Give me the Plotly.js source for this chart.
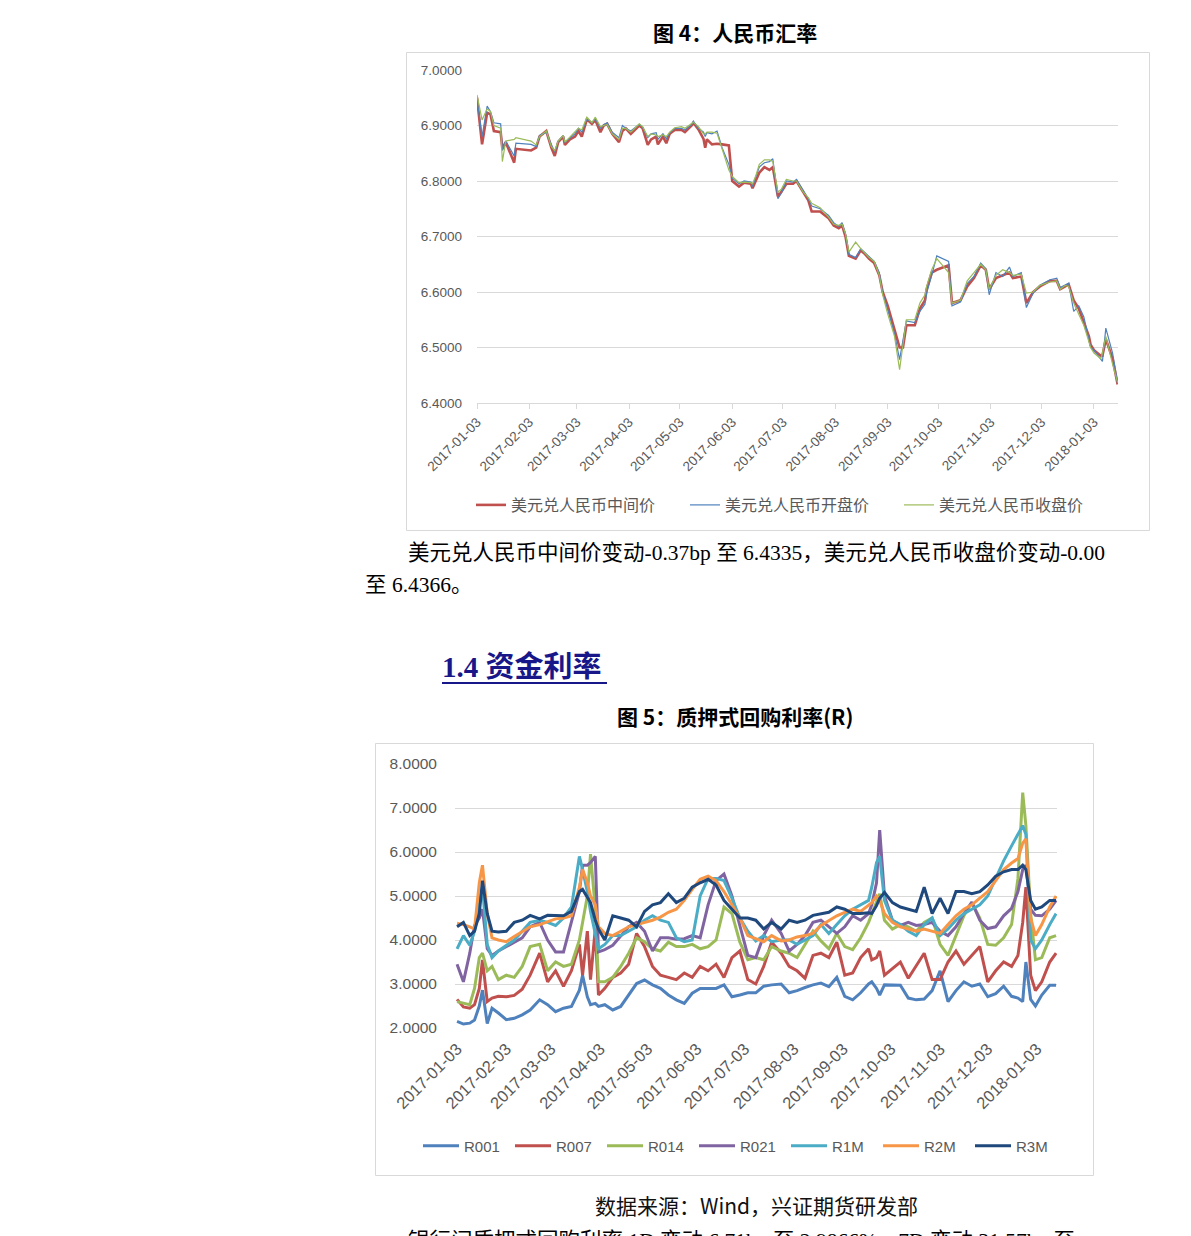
<!DOCTYPE html>
<html>
<head>
<meta charset="utf-8">
<script src="https://cdn.plot.ly/plotly-3.0.1.min.js"></script>
<style>
html,body{margin:0;padding:0;background:#fff;}
#page{width:1191px;height:1236px;}
</style>
</head>
<body>
<div id="page"></div>
<script>
// ---------- Figure 4: USD/CNY ----------
const fxSeriesNames = ['美元兑人民币中间价', '美元兑人民币开盘价', '美元兑人民币收盘价'];
const fxDates = [
'2017-01-03','2017-01-06','2017-01-09','2017-01-11','2017-01-13','2017-01-17','2017-01-18','2017-01-20','2017-01-25','2017-01-26',
'2017-02-04','2017-02-07','2017-02-09','2017-02-13','2017-02-16','2017-02-18','2017-02-20','2017-02-23','2017-02-24','2017-02-27',
'2017-03-02','2017-03-04','2017-03-06','2017-03-09','2017-03-12','2017-03-14','2017-03-17','2017-03-19','2017-03-21','2017-03-24',
'2017-03-28','2017-03-30','2017-04-01','2017-04-04','2017-04-09','2017-04-11','2017-04-14','2017-04-16','2017-04-19','2017-04-20',
'2017-04-23','2017-04-25','2017-04-27','2017-04-30','2017-05-04','2017-05-06','2017-05-10','2017-05-11','2017-05-14','2017-05-17',
'2017-05-18','2017-05-19','2017-05-22','2017-05-25','2017-05-28','2017-06-01','2017-06-03','2017-06-07','2017-06-10','2017-06-14',
'2017-06-15','2017-06-17','2017-06-19','2017-06-22','2017-06-25','2017-06-27','2017-06-30','2017-07-02','2017-07-05','2017-07-09',
'2017-07-11','2017-07-15','2017-07-18','2017-07-20','2017-07-25','2017-07-27','2017-07-30','2017-08-02','2017-08-05','2017-08-07',
'2017-08-09','2017-08-11','2017-08-15','2017-08-18','2017-08-20','2017-08-23','2017-08-26','2017-08-29','2017-08-31','2017-09-03',
'2017-09-07','2017-09-10','2017-09-12','2017-09-14','2017-09-19','2017-09-22','2017-09-25','2017-09-26','2017-09-29','2017-10-02',
'2017-10-09','2017-10-11','2017-10-16','2017-10-20','2017-10-24','2017-10-28','2017-10-31','2017-11-02','2017-11-06','2017-11-10',
'2017-11-14','2017-11-16','2017-11-21','2017-11-24','2017-11-28','2017-12-02','2017-12-08','2017-12-12','2017-12-14','2017-12-17',
'2017-12-19','2017-12-22','2017-12-25','2017-12-28','2017-12-31','2018-01-01','2018-01-03','2018-01-07','2018-01-08','2018-01-10',
'2018-01-14','2018-01-17'];
const fxMid = [
6.950,6.866,6.923,6.920,6.890,6.888,6.858,6.870,6.833,6.858,
6.855,6.860,6.880,6.890,6.860,6.845,6.870,6.880,6.865,6.875,
6.880,6.890,6.880,6.911,6.903,6.910,6.888,6.900,6.903,6.885,
6.870,6.890,6.895,6.885,6.900,6.895,6.865,6.875,6.880,6.866,
6.880,6.868,6.885,6.892,6.892,6.888,6.900,6.905,6.893,6.876,
6.860,6.875,6.866,6.867,6.866,6.864,6.800,6.790,6.797,6.795,
6.787,6.800,6.815,6.825,6.820,6.825,6.772,6.780,6.795,6.795,
6.800,6.780,6.765,6.745,6.745,6.740,6.733,6.720,6.715,6.720,
6.700,6.665,6.660,6.675,6.670,6.660,6.652,6.630,6.600,6.575,
6.530,6.500,6.500,6.540,6.540,6.570,6.585,6.605,6.635,6.640,
6.648,6.580,6.585,6.610,6.625,6.648,6.640,6.605,6.625,6.630,
6.635,6.625,6.628,6.580,6.600,6.610,6.620,6.620,6.605,6.610,
6.614,6.585,6.570,6.545,6.520,6.505,6.495,6.485,6.485,6.515,
6.480,6.4335];
const fxOpen = [
6.948,6.880,6.935,6.925,6.905,6.903,6.855,6.872,6.845,6.868,
6.866,6.862,6.882,6.888,6.866,6.852,6.872,6.882,6.870,6.878,
6.885,6.895,6.888,6.912,6.905,6.912,6.895,6.902,6.905,6.888,
6.878,6.900,6.895,6.890,6.902,6.897,6.878,6.885,6.887,6.875,
6.885,6.876,6.887,6.895,6.895,6.892,6.902,6.908,6.895,6.888,
6.880,6.887,6.885,6.890,6.860,6.830,6.805,6.795,6.800,6.798,
6.790,6.808,6.825,6.833,6.835,6.840,6.768,6.778,6.800,6.798,
6.803,6.783,6.768,6.755,6.750,6.745,6.738,6.725,6.718,6.725,
6.705,6.668,6.662,6.678,6.672,6.663,6.655,6.635,6.598,6.568,
6.525,6.478,6.510,6.548,6.545,6.565,6.578,6.598,6.630,6.665,
6.655,6.575,6.582,6.615,6.628,6.652,6.642,6.595,6.635,6.628,
6.645,6.628,6.635,6.572,6.598,6.612,6.622,6.625,6.608,6.612,
6.616,6.565,6.575,6.555,6.515,6.500,6.495,6.478,6.475,6.535,
6.490,6.435];
const fxClose = [
6.955,6.910,6.930,6.925,6.900,6.895,6.835,6.872,6.875,6.878,
6.872,6.865,6.880,6.890,6.862,6.855,6.872,6.882,6.870,6.880,
6.890,6.895,6.892,6.915,6.905,6.915,6.898,6.900,6.902,6.885,
6.875,6.895,6.895,6.888,6.903,6.898,6.880,6.885,6.883,6.880,
6.883,6.880,6.888,6.896,6.898,6.895,6.905,6.906,6.898,6.885,
6.885,6.888,6.888,6.886,6.858,6.820,6.808,6.797,6.798,6.797,
6.795,6.810,6.830,6.838,6.838,6.835,6.780,6.785,6.803,6.800,
6.800,6.780,6.770,6.760,6.752,6.745,6.735,6.722,6.720,6.722,
6.705,6.672,6.690,6.678,6.672,6.662,6.655,6.630,6.595,6.560,
6.520,6.460,6.505,6.550,6.550,6.580,6.595,6.610,6.640,6.660,
6.635,6.580,6.585,6.620,6.635,6.650,6.640,6.605,6.630,6.640,
6.635,6.630,6.632,6.598,6.600,6.612,6.618,6.620,6.605,6.612,
6.610,6.580,6.560,6.540,6.510,6.500,6.490,6.480,6.490,6.520,
6.470,6.4366];

// shared month ticks
const monthTicks = ['2017-01-03','2017-02-03','2017-03-03','2017-04-03','2017-05-03','2017-06-03','2017-07-03',
                    '2017-08-03','2017-09-03','2017-10-03','2017-11-03','2017-12-03','2018-01-03'];
const fxYTicks = [6.4, 6.5, 6.6, 6.7, 6.8, 6.9, 7.0];

// ---------- Figure 5: repo rates ----------
const repoNames = ['R001','R007','R014','R021','R1M','R2M','R3M'];
const repoDates = [
'2017-01-03','2017-01-07','2017-01-11','2017-01-14','2017-01-17','2017-01-19','2017-01-22','2017-01-25','2017-01-29','2017-02-03',
'2017-02-08','2017-02-13','2017-02-18','2017-02-24','2017-03-01','2017-03-06','2017-03-11','2017-03-16','2017-03-21','2017-03-23',
'2017-03-26','2017-03-28','2017-03-31','2017-04-02','2017-04-06','2017-04-11','2017-04-16','2017-04-21','2017-04-26','2017-05-01',
'2017-05-06','2017-05-11','2017-05-16','2017-05-21','2017-05-26','2017-05-31','2017-06-05','2017-06-10','2017-06-15','2017-06-20',
'2017-06-25','2017-06-30','2017-07-05','2017-07-10','2017-07-15','2017-07-20','2017-07-26','2017-07-31','2017-08-05','2017-08-10',
'2017-08-15','2017-08-20','2017-08-25','2017-08-30','2017-09-04','2017-09-09','2017-09-14','2017-09-19','2017-09-21','2017-09-24',
'2017-09-26','2017-09-29','2017-10-04','2017-10-09','2017-10-14','2017-10-19','2017-10-24','2017-10-29','2017-11-03','2017-11-08',
'2017-11-13','2017-11-18','2017-11-23','2017-11-28','2017-12-03','2017-12-08','2017-12-13','2017-12-18','2017-12-22','2017-12-25',
'2017-12-27','2017-12-30','2018-01-02','2018-01-06','2018-01-11','2018-01-15'];
const R001 = [
2.15,2.09,2.11,2.18,2.50,2.86,2.10,2.45,2.34,2.19,
2.22,2.30,2.41,2.64,2.53,2.37,2.45,2.49,2.86,3.20,
2.71,2.53,2.56,2.49,2.53,2.41,2.49,2.75,3.01,3.09,
2.98,2.90,2.75,2.64,2.56,2.79,2.90,2.90,2.90,2.98,
2.71,2.75,2.80,2.80,2.95,2.98,3.00,2.80,2.85,2.92,
2.98,3.02,2.94,3.15,2.72,2.64,2.80,3.00,3.05,2.90,
2.75,2.98,2.98,2.97,2.68,2.64,2.66,2.85,3.30,2.60,
2.85,3.05,2.95,3.00,2.71,2.78,2.95,2.72,2.68,2.60,
3.50,2.65,2.50,2.75,2.97,2.97];
const R007 = [
2.65,2.48,2.45,2.53,2.90,3.55,2.60,2.68,2.72,2.71,
2.74,2.88,3.20,3.70,3.05,3.30,2.95,3.30,3.90,3.20,
4.20,3.10,4.25,2.75,2.90,3.15,3.25,3.45,4.15,3.85,
3.40,3.20,3.15,3.10,3.25,3.15,3.40,3.30,3.45,3.15,
3.60,3.75,3.10,3.00,3.40,3.95,3.70,3.40,3.30,3.13,
3.65,3.70,3.60,3.95,3.20,3.25,3.60,3.80,3.55,3.60,
3.75,3.20,3.35,3.50,3.13,3.40,3.70,3.10,3.10,3.50,
3.75,3.45,3.65,3.85,3.05,3.30,3.50,3.40,3.65,4.40,
5.20,3.20,2.85,3.05,3.50,3.70];
const R014 = [
2.60,2.56,2.53,2.90,3.60,3.70,3.30,3.40,3.10,3.20,
3.15,3.40,3.85,3.90,3.30,3.50,3.40,3.45,4.00,4.40,
5.00,5.95,4.70,3.05,3.05,3.15,3.40,3.70,4.05,3.96,
3.80,3.75,3.95,3.85,3.85,3.90,3.80,3.85,4.00,4.75,
4.60,3.95,3.55,3.60,3.55,3.85,3.75,3.70,3.60,3.90,
4.20,3.98,3.80,4.15,3.85,3.78,4.05,4.40,4.60,4.90,
5.05,4.45,4.25,4.35,4.30,4.20,4.40,4.50,3.90,3.65,
4.10,4.55,4.85,4.50,3.90,3.88,4.05,4.35,5.40,7.35,
6.60,4.60,3.55,3.60,4.05,4.10];
const R021 = [
3.45,3.05,3.70,4.33,4.50,4.70,3.80,3.65,3.75,3.85,
3.95,4.05,4.30,4.40,4.00,3.73,3.73,4.40,5.10,5.70,
5.70,5.76,5.90,3.73,3.78,3.88,4.10,4.30,4.40,4.20,
3.75,4.05,4.05,4.02,4.03,4.10,4.05,4.80,5.35,5.50,
5.00,4.30,3.65,3.60,4.10,4.45,4.15,3.75,3.90,4.10,
4.40,4.45,4.30,4.15,4.30,4.55,4.45,4.60,4.80,5.30,
6.50,5.00,4.45,4.33,4.40,4.33,4.35,4.40,4.20,4.10,
4.30,4.60,4.86,4.45,4.26,4.30,4.55,4.72,5.10,5.60,
5.70,4.70,4.56,4.55,4.70,4.90];
const R1M = [
3.80,4.10,3.88,4.20,4.80,5.20,3.90,3.60,3.75,3.88,
4.00,4.20,4.40,4.45,4.40,4.33,4.50,4.75,5.90,5.60,
5.10,4.65,4.10,3.80,3.90,4.10,4.10,4.20,4.30,4.45,
4.55,4.45,4.40,4.05,3.96,4.00,5.00,5.40,5.40,5.35,
4.95,4.50,4.20,3.98,4.10,3.96,4.00,4.00,3.90,4.00,
4.10,4.35,4.15,4.35,4.55,4.70,4.80,4.90,5.20,5.76,
5.90,4.90,4.45,4.35,4.20,4.10,4.35,4.50,4.10,4.25,
4.45,4.60,4.70,4.80,5.00,5.40,5.80,6.14,6.40,6.60,
6.40,4.00,3.80,4.00,4.35,4.60];
const R2M = [
4.38,4.35,4.30,4.25,5.30,5.70,4.60,4.05,4.00,3.96,
4.08,4.20,4.30,4.35,4.42,4.48,4.50,4.55,5.20,5.60,
5.30,5.00,4.80,4.30,4.15,4.10,4.20,4.30,4.35,4.40,
4.45,4.52,4.63,4.70,4.90,5.15,5.38,5.45,5.35,5.10,
4.80,4.50,4.10,4.03,3.96,4.10,3.98,4.00,4.07,4.10,
4.15,4.33,4.45,4.55,4.63,4.70,4.65,4.78,4.85,5.00,
4.90,4.60,4.40,4.30,4.25,4.20,4.25,4.20,4.15,4.35,
4.55,4.70,4.80,4.95,5.10,5.35,5.60,5.75,5.85,6.20,
6.30,4.50,4.10,4.35,4.75,5.00];
const R3M = [
4.30,4.40,4.10,4.20,4.60,5.35,4.60,4.20,4.18,4.20,
4.40,4.45,4.56,4.48,4.56,4.55,4.55,4.65,5.10,5.15,
4.95,4.85,4.45,4.25,4.00,4.55,4.50,4.45,4.30,4.65,
4.80,4.85,5.05,4.85,4.95,5.20,5.30,5.38,5.25,4.90,
4.70,4.50,4.50,4.45,4.25,4.40,4.25,4.45,4.40,4.45,
4.56,4.60,4.63,4.75,4.70,4.60,4.60,4.62,4.60,4.78,
4.95,5.08,4.85,4.75,4.70,4.65,5.20,4.60,4.95,4.60,
5.10,5.10,5.05,5.10,5.25,5.45,5.55,5.60,5.60,5.70,
5.60,4.90,4.70,4.75,4.90,4.90];
const repoValues = [R001, R007, R014, R021, R1M, R2M, R3M];
const repoYTicks = [2, 3, 4, 5, 6, 7, 8];

// ---------- build ----------
const W = 1191, H = 1236;
const px = x => x / W;           // pixel -> paper x
const py = y => (H - y) / H;     // pixel (from top) -> paper y

const fxColors = ['#C0504D', '#4F81BD', '#9BBB59'];
const fxWidths = [2.6, 1.2, 1.2];
const fxData = [fxMid, fxOpen, fxClose];
const repoColors = ['#4F81BD', '#C0504D', '#9BBB59', '#8064A2', '#4BACC6', '#F79646', '#1F497D'];

const traces = [];
fxData.forEach((vals, i) => {
  traces.push({
    type: 'scatter', mode: 'lines', x: fxDates, y: vals, name: fxSeriesNames[i],
    xaxis: 'x', yaxis: 'y', legend: 'legend',
    line: {color: fxColors[i], width: fxWidths[i]}
  });
});
repoValues.forEach((vals, i) => {
  traces.push({
    type: 'scatter', mode: 'lines', x: repoDates, y: vals, name: repoNames[i],
    xaxis: 'x2', yaxis: 'y2', legend: 'legend2',
    line: {color: repoColors[i], width: 3}
  });
});

const grey = '#595959';
const tickText = monthTicks.slice();
const cjk = 'Noto Sans CJK SC, Noto Sans, sans-serif';
const serif = 'Liberation Serif, Noto Sans CJK SC, serif';
const sans = 'Liberation Sans, Arial, sans-serif';

const layout = {
  width: W, height: H,
  margin: {l: 0, r: 0, t: 0, b: 0, pad: 0},
  paper_bgcolor: '#ffffff', plot_bgcolor: 'rgba(0,0,0,0)',
  showlegend: true,
  xaxis: {
    type: 'date', domain: [px(477), px(1118)], anchor: 'y',
    range: ['2017-01-03', '2018-01-17 05:00'],
    tickmode: 'array', tickvals: monthTicks, ticktext: tickText, tickangle: -45,
    ticks: 'outside', ticklen: 5, tickcolor: '#D9D9D9', tickwidth: 1,
    showline: true, linecolor: '#D9D9D9', linewidth: 1,
    showgrid: false, zeroline: false, automargin: false,
    tickfont: {family: sans, size: 13.5, color: grey}
  },
  yaxis: {
    domain: [py(403), py(70)], range: [6.4, 7.0], anchor: 'x',
    tickmode: 'array', tickvals: fxYTicks, tickformat: '.4f',
    showgrid: true, gridcolor: '#D9D9D9', gridwidth: 1,
    zeroline: false, showline: false, ticks: '', automargin: false,
    ticklabelstandoff: 14,
    tickfont: {family: sans, size: 13.5, color: grey}
  },
  xaxis2: {
    type: 'date', domain: [px(455), px(1057)], anchor: 'y2',
    range: ['2017-01-01 17:00', '2018-01-15 14:00'],
    tickmode: 'array', tickvals: monthTicks, ticktext: tickText, tickangle: -45,
    ticks: 'outside', ticklen: 4, tickcolor: 'rgba(0,0,0,0)',
    showline: false, showgrid: false, zeroline: false, automargin: false,
    tickfont: {family: sans, size: 16.5, color: grey}
  },
  yaxis2: {
    domain: [py(1028), py(764)], range: [2, 8], anchor: 'x2',
    tickmode: 'array', tickvals: repoYTicks, tickformat: '.4f',
    showgrid: true, gridcolor: '#D9D9D9', gridwidth: 1,
    zeroline: false, showline: false, ticks: '', automargin: false,
    ticklabelstandoff: 17,
    tickfont: {family: sans, size: 15.5, color: grey}
  },
  legend: {
    orientation: 'h', x: px(471), xanchor: 'left', y: py(505), yanchor: 'middle',
    font: {family: cjk, size: 16, color: grey}, entrywidth: 169, entrywidthmode: 'pixels',
    bgcolor: 'rgba(0,0,0,0)', borderwidth: 0, traceorder: 'normal'
  },
  legend2: {
    orientation: 'h', x: px(418), xanchor: 'left', y: py(1146), yanchor: 'middle',
    font: {family: sans, size: 15, color: grey},
    entrywidth: 41, entrywidthmode: 'pixels', itemwidth: 36,
    bgcolor: 'rgba(0,0,0,0)', borderwidth: 0, traceorder: 'normal'
  },
  shapes: [
    {type: 'rect', xref: 'paper', yref: 'paper', x0: px(406.5), x1: px(1149.5), y0: py(530.5), y1: py(52.5),
     line: {color: '#D9D9D9', width: 1}, fillcolor: 'rgba(0,0,0,0)'},
    {type: 'rect', xref: 'paper', yref: 'paper', x0: px(375.5), x1: px(1093.5), y0: py(1175.5), y1: py(743.5),
     line: {color: '#D9D9D9', width: 1}, fillcolor: 'rgba(0,0,0,0)'},
    {type: 'line', xref: 'paper', yref: 'paper', x0: px(442), x1: px(607), y0: py(683), y1: py(683),
     line: {color: '#17178A', width: 2}}
  ],
  annotations: [
    {text: '<b>图 4：人民币汇率</b>', x: px(735), y: py(32), xref: 'paper', yref: 'paper',
     xanchor: 'center', yanchor: 'middle', showarrow: false,
     font: {family: cjk, size: 21, color: '#000'}},
    {text: '美元兑人民币中间价变动-0.37bp 至 6.4335，美元兑人民币收盘价变动-0.00', x: px(406), y: py(553),
     xref: 'paper', yref: 'paper', xanchor: 'left', yanchor: 'middle', showarrow: false,
     font: {family: serif, size: 21.5, color: '#000'}},
    {text: '至 6.4366。', x: px(363), y: py(585), xref: 'paper', yref: 'paper',
     xanchor: 'left', yanchor: 'middle', showarrow: false,
     font: {family: serif, size: 21.5, color: '#000'}},
    {text: '<b>1.4 资金利率</b>', x: px(440), y: py(667), xref: 'paper', yref: 'paper',
     xanchor: 'left', yanchor: 'middle', showarrow: false,
     font: {family: serif, size: 29, color: '#17178A'}},
    {text: '<b>图 5：质押式回购利率(R)</b>', x: px(735), y: py(716), xref: 'paper', yref: 'paper',
     xanchor: 'center', yanchor: 'middle', showarrow: false,
     font: {family: cjk, size: 21, color: '#000'}},
    {text: '数据来源：Wind，兴证期货研发部', x: px(593), y: py(1205), xref: 'paper', yref: 'paper',
     xanchor: 'left', yanchor: 'middle', showarrow: false,
     font: {family: cjk, size: 21, color: '#111'}},
    {text: '银行间质押式回购利率 1D 变动 6.71bp 至 2.9866%，7D 变动 31.57bp 至', x: px(406), y: py(1241),
     xref: 'paper', yref: 'paper', xanchor: 'left', yanchor: 'middle', showarrow: false,
     font: {family: serif, size: 21.5, color: '#000'}}
  ]
};

Plotly.newPlot('page', traces, layout, {staticPlot: true, displayModeBar: false});
</script>
</body>
</html>
